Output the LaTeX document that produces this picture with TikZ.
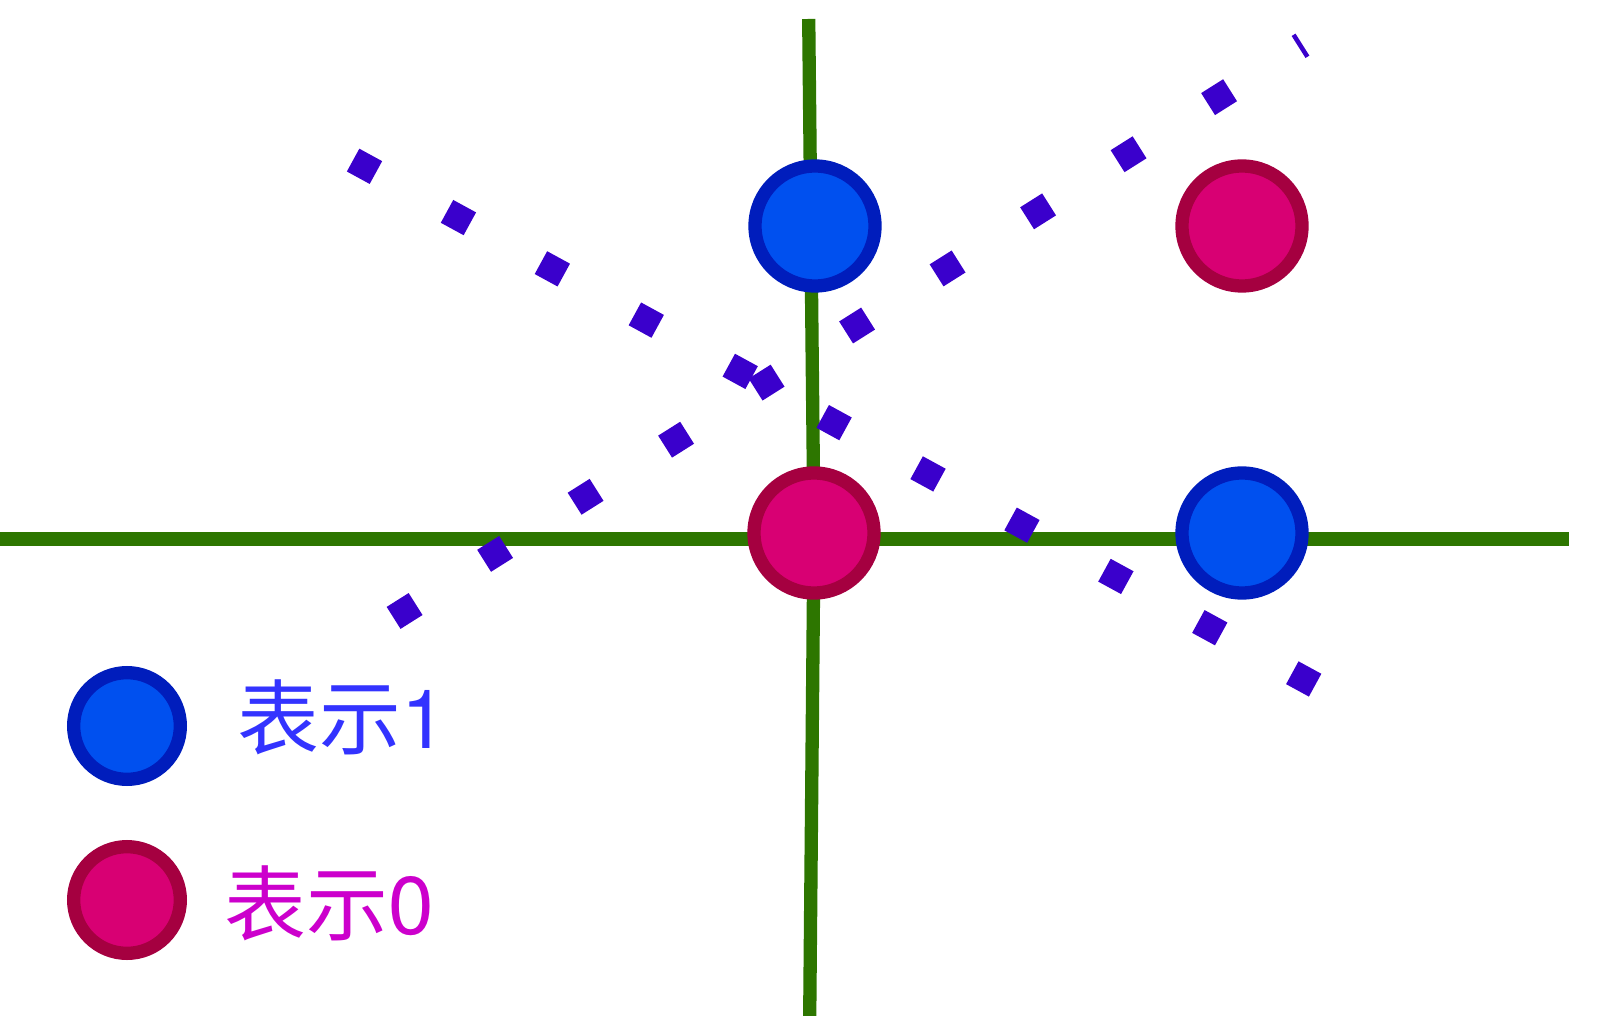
\documentclass[tikz,border=0pt]{standalone}
\usepackage{fontspec}
\newfontfamily\cjk{Noto Sans CJK SC}
\newfontfamily\digitfont{TeX Gyre Heros}
\usepackage{tikz}
\usetikzlibrary{calc}

\definecolor{axisgreen}{HTML}{2D7600}
\definecolor{dashpurple}{HTML}{3A00CC}
\definecolor{onefill}{HTML}{0050EF}
\definecolor{oneborder}{HTML}{001DBC}
\definecolor{zerofill}{HTML}{D80073}
\definecolor{zeroborder}{HTML}{A50040}
\definecolor{onetext}{HTML}{3333FF}
\definecolor{zerotext}{HTML}{CC00CC}

\begin{document}
\begin{tikzpicture}[
        x=0.1mm, y=-0.1mm,
        axis/.style={line width=1.33mm, axisgreen},
        sepline/.style={line width=2.6mm, dashpurple, dash pattern=on 2.6mm off 8.1mm},
        onept/.style={circle, draw=oneborder, fill=onefill, line width=1.33mm, minimum size=12mm, inner sep=0pt},
        zeropt/.style={circle, draw=zeroborder, fill=zerofill, line width=1.33mm, minimum size=12mm, inner sep=0pt},
        legendtext/.style={anchor=base west, inner sep=0pt, font=\fontsize{23.3pt}{28pt}\selectfont},
    ]
        \useasboundingbox (0,0) rectangle (1610,1016);

        % --- Puntos de referencia ---
        \coordinate (o) at (814,533);
        \coordinate (hleft) at (0,539);
        \coordinate (hright) at (1569,539);
        \coordinate (vtop) at (808.7,19);
        \coordinate (vbot) at (809.7,1016);
        \coordinate (astart) at (353.1,160.1);
        \coordinate (aend) at (1316.4,685.9);
        \coordinate (bstart) at (393.6,617.9);
        \coordinate (bend) at (1302.4,44.6);

        % --- Ejes ---
        \draw[axis] (hleft) -- (hright);
        \draw[axis] (vtop) -- (o) -- (vbot);

        % --- Rectas de separacion ---
        \draw[sepline] (astart) -- (aend);
        \draw[sepline] (bstart) -- (bend);

        % --- Puntos ---
        \node[zeropt] (p00) at (o) {};
        \node[onept] (p01) at (815,226) {};
        \node[zeropt] (p11) at (1242,226) {};
        \node[onept] (p10) at (1242,533) {};

        % --- Leyenda ---
        \node[onept, minimum size=10.67mm] (key1) at (127,726) {};
        \node[zeropt, minimum size=10.67mm] (key0) at (127,900) {};
        \node[legendtext, text=onetext] (lab1) at (237,748) {\cjk 表示\digitfont 1};
        \node[legendtext, text=zerotext] (lab0) at (224,934) {\cjk 表示\digitfont 0};
    \end{tikzpicture}
\end{document}
